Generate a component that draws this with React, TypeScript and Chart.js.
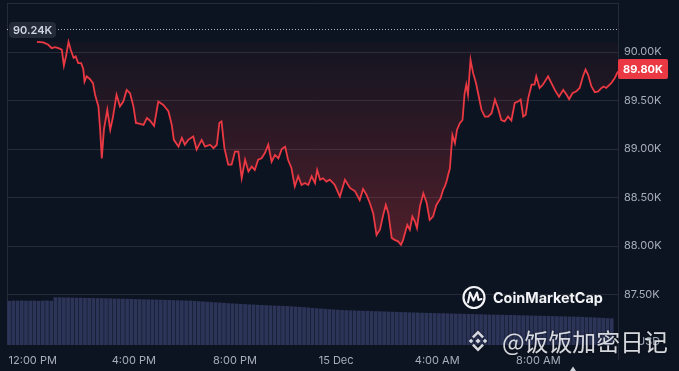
import React, { useEffect, useRef } from 'react';
import { Chart, registerables } from 'chart.js';

Chart.register(...registerables);

// ---- data ----
// minutes after 12:00 PM (14 Dec)
const priceMinutes = [
  10, 25, 37, 45, 53, 61, 69, 74, 79, 85, 90, 97, 102, 108, 115, 120, 123, 128, 136, 143,
  148, 156, 160, 164, 169, 177, 184, 190, 199, 207, 215, 223, 231, 239, 245, 255, 263, 271, 278, 288,
  298, 310, 322, 330, 335, 346, 354, 361, 369, 381, 389, 401, 409, 421, 429, 437, 443, 448, 455, 464,
  472, 480, 488, 496, 504, 512, 520, 527, 535, 543, 551, 559, 567, 575, 583, 591, 599, 606, 614, 622,
  630, 638, 646, 654, 662, 670, 675, 682, 689, 697, 705, 713, 717, 729, 741, 753, 765, 776, 784, 792,
  800, 808, 816, 824, 832, 838, 844, 852, 859, 867, 874, 879, 889, 895, 901, 907, 912, 919, 927, 935,
  942, 950, 958, 968, 974, 978, 982, 986, 990, 996, 1002, 1007, 1014, 1020, 1025, 1029, 1033, 1039, 1045, 1052,
  1057, 1065, 1073, 1081, 1089, 1097, 1104, 1112, 1120, 1128, 1136, 1144, 1152, 1158, 1164, 1170, 1176, 1184, 1191, 1195,
  1203, 1211, 1223, 1231, 1239, 1249, 1259, 1267, 1273, 1281, 1290, 1298, 1306, 1312, 1318, 1326, 1334, 1342, 1350, 1355,
  1361, 1373, 1381, 1389,
];
const priceValues = [
  90105, 90100, 90075, 90040, 90050, 90040, 90025, 89860, 89955, 90105, 90025, 89940, 89955, 89885, 89885, 89825, 89695, 89750, 89720, 89680,
  89560, 89440, 89200, 88905, 89200, 89405, 89200, 89320, 89560, 89440, 89490, 89610, 89575, 89440, 89270, 89260, 89250, 89320, 89295, 89240,
  89490, 89455, 89390, 89250, 89095, 89025, 89115, 89045, 89095, 89130, 88995, 89095, 89025, 89045, 89010, 89045, 89270, 89285, 89010, 88840,
  88840, 88975, 88975, 88700, 88890, 88770, 88820, 88785, 88890, 88905, 88960, 89045, 88870, 88940, 88905, 89000, 89025, 88890, 88805, 88615,
  88720, 88630, 88650, 88630, 88720, 88650, 88785, 88685, 88700, 88665, 88685, 88650, 88630, 88510, 88685, 88600, 88565, 88475, 88590, 88530,
  88445, 88340, 88115, 88170, 88325, 88425, 88340, 88085, 88065, 88050, 88015, 88065, 88220, 88170, 88305, 88255, 88185, 88410, 88545, 88445,
  88270, 88305, 88425, 88495, 88580, 88615, 88665, 88735, 88800, 89145, 89060, 89200, 89270, 89300, 89575, 89665, 89560, 89920, 89785, 89680,
  89575, 89405, 89335, 89335, 89370, 89510, 89425, 89300, 89285, 89335, 89295, 89475, 89490, 89510, 89335, 89355, 89525, 89665, 89665, 89750,
  89630, 89665, 89750, 89680, 89610, 89540, 89610, 89560, 89515, 89575, 89595, 89630, 89750, 89820, 89765, 89645, 89585, 89595, 89630, 89645,
  89630, 89680, 89730, 89800,
];
// rolling 24h volume (billions USD), one bar every 10 minutes
const volumeStartMinute = -56;
const volumeStepMinutes = 10;
const volumeValues = [
  51.6, 51.9, 51.8, 52.0, 51.7, 51.8, 51.9, 51.6, 51.8, 52.0, 51.7,
  55.8, 55.7, 55.6, 55.6, 55.4, 55.3, 55.3, 55.1, 55.0, 54.9, 54.8, 54.7, 54.6, 54.5, 54.3, 54.2, 54.1, 54.0, 53.9,
  53.7, 53.6, 53.4, 53.3, 53.2, 53.0, 52.9, 52.7, 52.6, 52.4, 52.3, 52.1, 52.0, 51.8,
  51.5, 51.2, 50.9, 50.5, 50.2, 49.9, 49.6, 49.3, 48.9, 48.6, 48.3, 48.0,
  47.8, 47.5, 47.3, 47.0, 46.8, 46.6, 46.3, 46.1, 45.9, 45.7, 45.5, 45.3,
  44.9, 44.5, 44.2, 43.8, 43.4, 43.0, 42.6, 42.3, 41.9, 41.6, 41.2, 40.9,
  40.7, 40.5, 40.4, 40.2, 40.0, 39.9, 39.7, 39.5, 39.4, 39.2, 39.0, 38.9, 38.7, 38.5, 38.4, 38.2, 38.0, 37.9, 37.7, 37.6, 37.5, 37.3, 37.2, 37.1,
  37.0, 36.8, 36.7, 36.6, 36.4, 36.3, 36.2, 36.0, 35.9, 35.8, 35.6, 35.5, 35.4, 35.3, 35.2, 35.1,
  35.0, 34.8, 34.7, 34.6, 34.4, 34.3, 34.2, 34.0, 33.9, 33.8, 33.7, 33.5, 33.4, 33.3, 33.2, 33.1,
  32.8, 32.6, 32.4, 32.2, 31.9, 31.7, 31.4, 31.2,
];
const xTickMinutes = [0, 240, 480, 720, 960, 1200];
const xTickLabels = ['12:00 PM', '4:00 PM', '8:00 PM', '15 Dec', '4:00 AM', '8:00 AM'];
const yTickValues = [87500, 88000, 88500, 89000, 89500, 90000];
const highPrice = 90240;
const openPrice = 90100;
const currency = 'USD';
const brandText = 'CoinMarketCap';
const watermarkText = '@饭饭加密日记';

// ---- style ----
const BG = '#0d1421';
const GRID = '#262b38';
const RED = '#ea3943';
const TICK = '#a6adbd';
const FONT = 'Inter, "Noto Sans", sans-serif';

const fmtK = (v: number) => (v / 1000).toFixed(2) + 'K';

function roundRect(ctx: CanvasRenderingContext2D, x: number, y: number, w: number, h: number, r: number) {
  ctx.beginPath();
  ctx.moveTo(x + r, y);
  ctx.lineTo(x + w - r, y);
  ctx.quadraticCurveTo(x + w, y, x + w, y + r);
  ctx.lineTo(x + w, y + h - r);
  ctx.quadraticCurveTo(x + w, y + h, x + w - r, y + h);
  ctx.lineTo(x + r, y + h);
  ctx.quadraticCurveTo(x, y + h, x, y + h - r);
  ctx.lineTo(x, y + r);
  ctx.quadraticCurveTo(x, y, x + r, y);
  ctx.closePath();
}

function fitFont(ctx: CanvasRenderingContext2D, text: string, weight: string, family: string, target: number) {
  ctx.font = `${weight} 20px ${family}`;
  const w = ctx.measureText(text).width || 1;
  const size = (20 * target) / w;
  ctx.font = `${weight} ${size}px ${family}`;
}

function diamond(ctx: CanvasRenderingContext2D, cx: number, cy: number, h: number) {
  ctx.beginPath();
  ctx.moveTo(cx, cy - h);
  ctx.lineTo(cx + h, cy);
  ctx.lineTo(cx, cy + h);
  ctx.lineTo(cx - h, cy);
  ctx.closePath();
  ctx.fill();
}

const overlayPlugin = {
  id: 'overlay',
  beforeDatasetsDraw(chart: any) {
    const { ctx, chartArea } = chart;
    ctx.save();
    ctx.strokeStyle = GRID;
    ctx.lineWidth = 1;
    ctx.beginPath();
    ctx.moveTo(chartArea.left, chartArea.top + 0.5);
    ctx.lineTo(chartArea.right, chartArea.top + 0.5);
    ctx.moveTo(chartArea.left + 0.5, chartArea.top);
    ctx.lineTo(chartArea.left + 0.5, chartArea.bottom);
    ctx.moveTo(chartArea.right + 0.5, chartArea.top);
    ctx.lineTo(chartArea.right + 0.5, chartArea.bottom + 15);
    ctx.stroke();
    ctx.restore();
  },
  afterDatasetsDraw(chart: any) {
    const { ctx, chartArea, scales } = chart;
    const yHigh = Math.round(scales.y.getPixelForValue(highPrice)) + 0.5;
    ctx.save();
    ctx.strokeStyle = 'rgba(215,220,230,0.8)';
    ctx.lineWidth = 1;
    ctx.setLineDash([1, 2]);
    ctx.beginPath();
    ctx.moveTo(chartArea.left, yHigh);
    ctx.lineTo(chartArea.right, yHigh);
    ctx.stroke();
    ctx.setLineDash([]);
    // high label
    ctx.fillStyle = 'rgba(38,44,58,0.95)';
    roundRect(ctx, 9, yHigh - 7.5, 47, 16, 4);
    ctx.fill();
    ctx.fillStyle = '#cfd5e2';
    ctx.font = `600 11px ${FONT}`;
    ctx.textAlign = 'left';
    ctx.textBaseline = 'middle';
    ctx.fillText(fmtK(highPrice), 13, yHigh + 1.5);
    ctx.restore();
  },
  afterDraw(chart: any) {
    const { ctx, chartArea, scales } = chart;
    const last = priceValues[priceValues.length - 1];
    const yLast = scales.y.getPixelForValue(last);
    ctx.save();
    // current price tag
    ctx.fillStyle = RED;
    roundRect(ctx, chartArea.right, yLast - 12.5, 50, 20, 2);
    ctx.fill();
    ctx.fillStyle = '#ffffff';
    ctx.font = `700 11px ${FONT}`;
    ctx.textAlign = 'center';
    ctx.textBaseline = 'middle';
    ctx.fillText(fmtK(last), chartArea.right + 25, yLast - 1.5);

    // currency label (partly hidden under watermark)
    ctx.fillStyle = TICK;
    ctx.font = `11px ${FONT}`;
    ctx.textAlign = 'left';
    ctx.fillText(currency, 637, 342);

    // CoinMarketCap brand
    ctx.strokeStyle = '#f2f3f6';
    ctx.fillStyle = '#f2f3f6';
    ctx.lineWidth = 2.2;
    ctx.lineJoin = 'round';
    ctx.lineCap = 'round';
    ctx.beginPath();
    ctx.arc(474, 297.5, 10.5, 0, Math.PI * 2);
    ctx.stroke();
    ctx.lineWidth = 2;
    ctx.beginPath();
    ctx.moveTo(468, 302.5);
    ctx.lineTo(470, 292.5);
    ctx.lineTo(473.5, 300.5);
    ctx.lineTo(477, 292.5);
    ctx.lineTo(478.5, 300);
    ctx.lineTo(481.5, 299);
    ctx.stroke();
    fitFont(ctx, brandText, '700', FONT, 110);
    ctx.textAlign = 'left';
    ctx.textBaseline = 'alphabetic';
    ctx.fillText(brandText, 493, 302.5);

    // Binance-style mark + watermark text
    ctx.shadowColor = 'rgba(0,0,0,0.45)';
    ctx.shadowBlur = 3;
    ctx.fillStyle = 'rgba(235,237,242,0.9)';
    const cx = 478, cy = 341;
    diamond(ctx, cx, cy, 2.6);
    diamond(ctx, cx - 7, cy, 2.3);
    diamond(ctx, cx + 7, cy, 2.3);
    ctx.beginPath();
    ctx.moveTo(cx, cy - 10.5);
    ctx.lineTo(cx + 6, cy - 4.5);
    ctx.lineTo(cx + 4.2, cy - 2.7);
    ctx.lineTo(cx, cy - 6.9);
    ctx.lineTo(cx - 4.2, cy - 2.7);
    ctx.lineTo(cx - 6, cy - 4.5);
    ctx.closePath();
    ctx.fill();
    ctx.beginPath();
    ctx.moveTo(cx, cy + 10.5);
    ctx.lineTo(cx + 6, cy + 4.5);
    ctx.lineTo(cx + 4.2, cy + 2.7);
    ctx.lineTo(cx, cy + 6.9);
    ctx.lineTo(cx - 4.2, cy + 2.7);
    ctx.lineTo(cx - 6, cy + 4.5);
    ctx.closePath();
    ctx.fill();
    fitFont(ctx, watermarkText, '400', '"Noto Sans CJK SC", sans-serif', 166);
    ctx.textBaseline = 'middle';
    ctx.fillText(watermarkText, 502, 342);
    ctx.shadowBlur = 0;
    // small handle marker
    ctx.fillStyle = 'rgba(225,228,236,0.9)';
    ctx.beginPath();
    ctx.moveTo(570, 371);
    ctx.lineTo(573, 366.5);
    ctx.lineTo(576, 371);
    ctx.closePath();
    ctx.fill();
    ctx.restore();
  },
};

export default function App() {
  const ref = useRef<HTMLCanvasElement>(null);
  useEffect(() => {
    document.body.style.margin = '0';
    document.body.style.background = BG;
    const canvas = ref.current!;
    const priceData = priceMinutes.map((m, i) => ({ x: m, y: priceValues[i] }));
    const volumeData = volumeValues.map((v, i) => ({ x: volumeStartMinute + i * volumeStepMinutes, y: v }));

    const chart = new Chart(canvas, {
      type: 'line',
      data: {
        datasets: [
          {
            type: 'line',
            data: priceData,
            yAxisID: 'y',
            borderColor: RED,
            borderWidth: 1.8,
            pointRadius: 0,
            tension: 0,
            fill: { value: openPrice } as any,
            backgroundColor: (c: any) => {
              const ch = c.chart;
              if (!ch.chartArea) return 'rgba(234,57,67,0.12)';
              const y0 = ch.scales.y.getPixelForValue(openPrice);
              const y1 = ch.scales.y.getPixelForValue(88000);
              const g = ch.ctx.createLinearGradient(0, y0, 0, y1);
              g.addColorStop(0, 'rgba(234,57,67,0.03)');
              g.addColorStop(1, 'rgba(234,57,67,0.30)');
              return g;
            },
            order: 1,
          } as any,
          {
            type: 'bar',
            data: volumeData,
            yAxisID: 'yv',
            backgroundColor: '#2c3458',
            borderWidth: 0,
            barPercentage: 0.88,
            categoryPercentage: 1,
            order: 2,
          } as any,
        ],
      },
      options: {
        responsive: false,
        devicePixelRatio: 1,
        animation: false,
        layout: { padding: { left: 7, top: 3, right: 0, bottom: 0 } },
        plugins: { legend: { display: false }, tooltip: { enabled: false } },
        scales: {
          x: {
            type: 'linear',
            min: -61,
            max: 1389,
            offset: false,
            grid: { display: false, drawTicks: false, offset: false },
            border: { display: false },
            afterBuildTicks: (s: any) => {
              s.ticks = xTickMinutes.map((v) => ({ value: v }));
            },
            afterFit: (s: any) => {
              s.height = 26;
              s.paddingLeft = 0;
              s.paddingRight = 0;
            },
            ticks: {
              autoSkip: false,
              maxRotation: 0,
              padding: 9,
              color: TICK,
              font: { family: FONT, size: 11 },
              callback: (v: any) => {
                const i = xTickMinutes.indexOf(Number(v));
                return i >= 0 ? xTickLabels[i] : '';
              },
            },
          },
          y: {
            position: 'right',
            min: 86982,
            max: 90505,
            grid: { color: GRID, drawTicks: false, lineWidth: 1 },
            border: { display: false },
            afterBuildTicks: (s: any) => {
              s.ticks = yTickValues.map((v) => ({ value: v }));
            },
            afterFit: (s: any) => {
              s.width = 61;
              s.paddingTop = 0;
              s.paddingBottom = 0;
            },
            ticks: {
              padding: 6,
              color: TICK,
              font: { family: FONT, size: 11 },
              callback: (v: any) => fmtK(Number(v)),
            },
          },
          yv: {
            display: false,
            min: 0,
            max: 400,
          },
        },
      } as any,
      plugins: [overlayPlugin],
    });
    return () => chart.destroy();
  }, []);
  return (
    <div style={{ width: 679, height: 371, background: BG }}>
      <canvas ref={ref} width={679} height={371} style={{ display: 'block' }} />
    </div>
  );
}
